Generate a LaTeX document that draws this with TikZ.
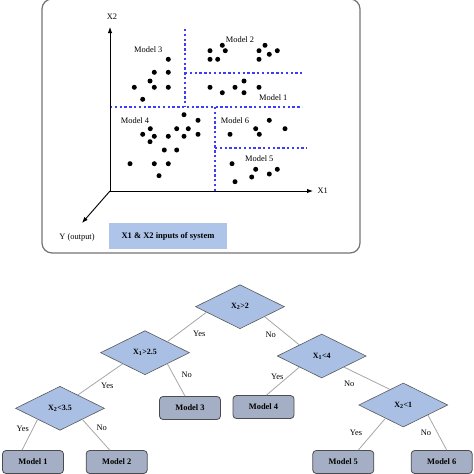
\documentclass[tikz,border=0pt]{standalone}
\usepackage{fontspec}
\setmainfont{Liberation Serif}
\usetikzlibrary{shapes.geometric,calc,arrows.meta}

\definecolor{splitblue}{RGB}{60,60,250}
\definecolor{testfill}{HTML}{A9BFE4}
\definecolor{modelfill}{HTML}{A4AEC4}
\definecolor{inputfill}{HTML}{AEC4E8}

\begin{document}
\begin{tikzpicture}[x=1pt,y=-1pt,
    test/.style={diamond,draw=black!65,fill=testfill,line width=0.6pt,
        minimum width=89pt,minimum height=44pt,inner sep=0pt,
        font=\fontsize{8}{9}\selectfont\bfseries},
    model/.style={rectangle,rounded corners=3.5pt,draw=black!70,fill=modelfill,
        line width=0.8pt,minimum width=61pt,minimum height=23pt,
        font=\fontsize{8.4}{10}\selectfont\bfseries},
    branch/.style={draw=black!35,line width=0.8pt},
    split/.style={color=splitblue,dash pattern=on 2.4pt off 2.4pt,line width=1.05pt},
    axis/.style={-{Latex[length=6pt,width=4.5pt]},line width=0.9pt},
    lbl/.style={font=\fontsize{8.4}{10}\selectfont}]
    \useasboundingbox (0,0) rectangle (474,474);

    % Splits (dashed)
    \draw[split] (185,29) -- (185,107)
        (185,73) -- (302,73)
        (110,107) -- (302,107)
        (215,107) -- (215,191)
        (215,148) -- (307,148);

    % Frame of the input space
    \draw[draw=black!55,line width=1.2pt,rounded corners=10pt] (42,-1) rectangle (360,253);

    % Draw axes
    \coordinate (O) at (110,191);
    \coordinate (x2end) at (110,27);
    \coordinate (x1end) at (313,191);
    \coordinate (yend) at (82,223);
    \draw[axis] (O) -- (x2end);
    \draw[axis] (O) -- (x1end);
    \draw[axis] (O) -- (yend);
    \node[lbl] (x2lbl) at (112,17) {X2};
    \node[lbl,right] (x1lbl) at (314,191) {X1};
    \node[lbl] (ylbl) at (77,237) {Y (output)};
    \node[fill=inputfill,minimum width=118pt,minimum height=26pt,
        font=\fontsize{8.5}{10}\selectfont\bfseries] (inputs) at (168,236) {X1 \& X2 inputs of system};

    % Data points
    \foreach \x/\y in {168.3/59.3,154.3/72.3,168.3/72.3,150/81,154.3/87.3,168.3/87.3,134.3/87.3,142.7/99.3,
        210/50.7,222.3/45.3,225.3/50.7,210/59.3,217.7/59.3,259/50.7,265/45.3,269.3/54.3,277.3/50.7,259/59.3,
        210/87.3,222.3/92.7,235/87.3,244/81,244/92.7,259/87.3,
        184/114.7,198/120.3,150.3/128.7,142.7/134.3,154.3/136.3,150/141.7,168.3/136.3,176.7/128.7,
        188.3/128.7,184/136.3,198/134.3,164.3/150,176.7/150,130/163.7,154.3/163.7,168.3/163.7,159/175.7,
        230/134.3,255.7/128.7,259.3/134.3,269.3/120.3,285/128.7,
        232/163.7,255.7/169.3,251.7/177,269.3/174,277.3/169.3,235/181.7}
        \fill (\x,\y) circle (2.5pt);

    % Region labels
    \node[lbl] (r3) at (148.3,49.3) {Model 3};
    \node[lbl] (r2) at (240,39.3) {Model 2};
    \node[lbl] (r1) at (273.3,97.7) {Model 1};
    \node[lbl] (r4) at (135,120.7) {Model 4};
    \node[lbl] (r6) at (235,120.7) {Model 6};
    \node[lbl] (r5) at (259.3,159) {Model 5};

    % Decision tree
    \node[test] (root) at (240,306.7) {X\textsubscript{2}>2};
    \node[test] (x1a) at (145,352.7) {X\textsubscript{1}>2.5};
    \node[test] (x1b) at (321.7,356) {X\textsubscript{1}<4};
    \node[test] (x2a) at (60,408.3) {X\textsubscript{2}<3.5};
    \node[test] (x2b) at (403.3,405) {X\textsubscript{2}<1};

    \node[model] (m3) at (190,408) {Model 3};
    \node[model] (m4) at (263.5,407) {Model 4};
    \node[model] (m1) at (33,462) {Model 1};
    \node[model] (m2) at (116.7,462) {Model 2};
    \node[model] (m5) at (343.3,462) {Model 5};
    \node[model] (m6) at (441.7,462) {Model 6};

    \draw[branch] ($(root.west)!0.25!(root.south)$) -- (x1a.north east);
    \draw[branch] ($(root.south)!0.55!(root.east)$) -- (x1b.north west);
    \draw[branch] (x1a.south west) -- ($(x2a.north)!0.4!(x2a.east)$);
    \draw[branch] (x1a.south east) -- ([xshift=-5pt]m3.north);
    \draw[branch] (x1b.south west) -- ([xshift=3pt]m4.north);
    \draw[branch] (x1b.south east) -- ($(x2b.west)!0.7!(x2b.north)$);
    \draw[branch] (x2a.south west) -- ([xshift=-11pt]m1.north);
    \draw[branch] (x2a.south east) -- ([xshift=-7pt]m2.north);
    \draw[branch] ($(x2b.south)!0.4!(x2b.west)$) -- ([xshift=15pt]m5.north);
    \draw[branch] ($(x2b.south)!0.55!(x2b.east)$) -- ([xshift=5pt]m6.north);

    % Branch labels
    \node[lbl] (y1) at (199.3,333.3) {Yes};
    \node[lbl] (n1) at (270.7,335) {No};
    \node[lbl] (y2) at (107.3,385.3) {Yes};
    \node[lbl] (n2) at (186.7,375) {No};
    \node[lbl] (y3) at (277.3,376.7) {Yes};
    \node[lbl] (n3) at (349.3,383.3) {No};
    \node[lbl] (y4) at (22.7,428.3) {Yes};
    \node[lbl] (n4) at (101.7,427.3) {No};
    \node[lbl] (y5) at (356,432.7) {Yes};
    \node[lbl] (n5) at (426,432.7) {No};
\end{tikzpicture}
\end{document}
